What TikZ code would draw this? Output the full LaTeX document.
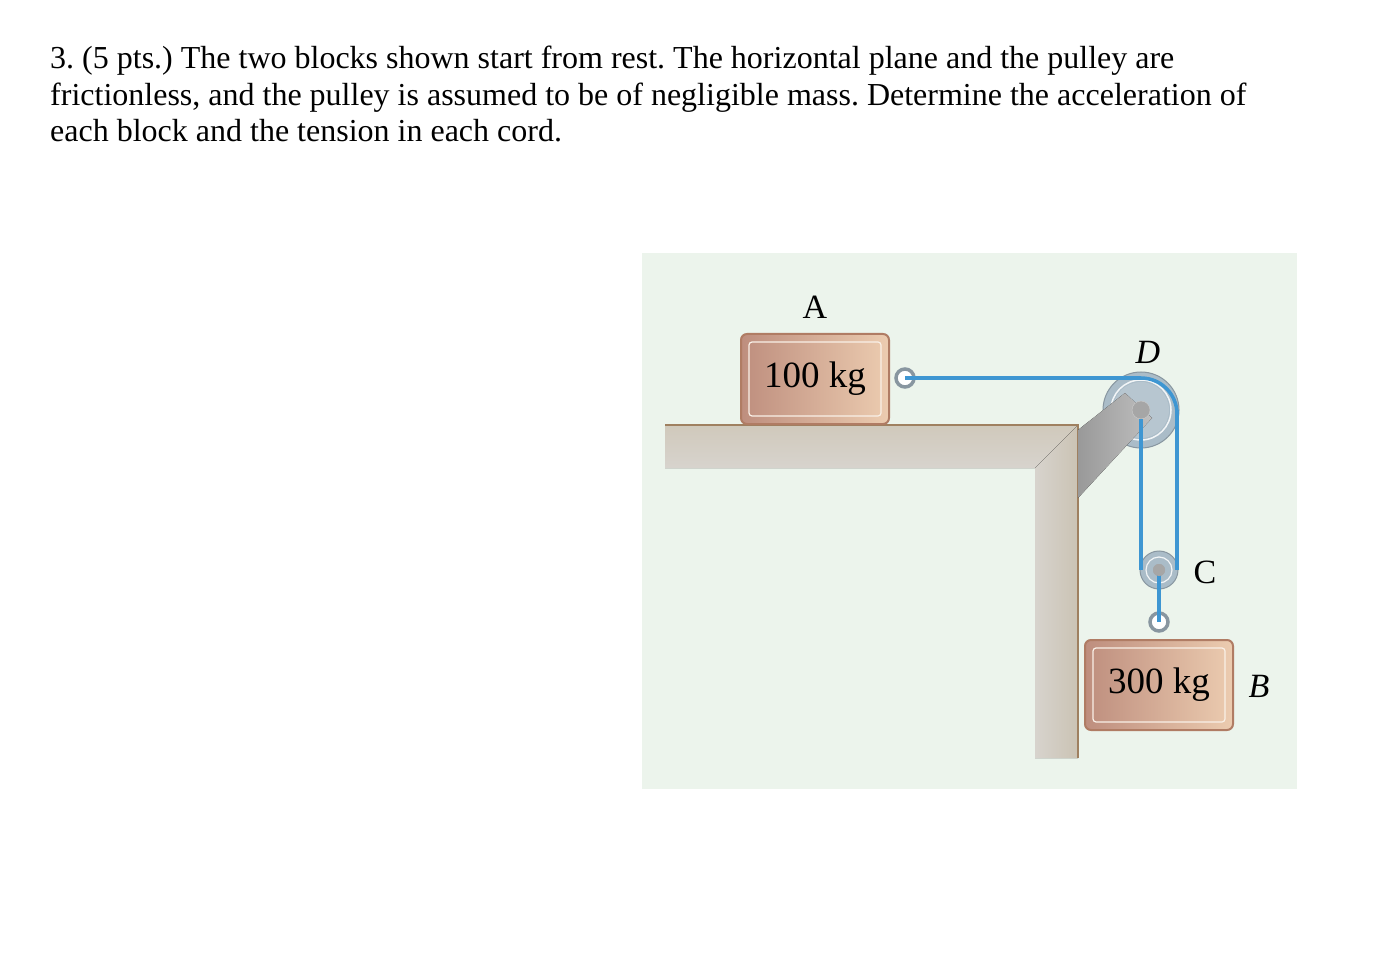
\documentclass[tikz,border=0pt]{standalone}
\usepackage{fontspec}
\setmainfont{Liberation Serif}
\frenchspacing
\definecolor{blkL}{RGB}{190,142,126}
\definecolor{blkR}{RGB}{236,204,176}
\definecolor{blkE}{RGB}{176,124,100}
\definecolor{cordc}{RGB}{62,150,210}
\definecolor{pul}{RGB}{170,188,200}
\begin{document}
\begin{tikzpicture}[x=1pt,y=-1pt,
  txt/.style={anchor=base west,inner sep=0,font=\fontsize{32}{36}\selectfont},
  lbl/.style={inner sep=0,font=\fontsize{34}{38}\selectfont},
  block/.style={draw=blkE,line width=2pt,rounded corners=6pt,
     left color=blkL,right color=blkR,inner sep=0},
  cord/.style={draw=cordc,line width=3.5pt},
  eyering/.style={circle,draw=pul!80!black,line width=3.5pt,fill=white,minimum size=18pt,inner sep=0}]
\useasboundingbox (0,0) rectangle (1382,968);
\fill[white] (0,0) rectangle (1382,968);
\node[txt] (l1) at (50,69) {3. (5 pts.) The two blocks shown start from rest. The horizontal plane and the pulley are};
\node[txt] (l2) at (50,106) {frictionless, and the pulley is assumed to be of negligible mass. Determine the acceleration of};
\node[txt] (l3) at (50,142) {each block and the tension in each cord.};
% panel
\fill[green!25!gray!12!white] (642,253) rectangle (1297,789);
% table
\fill[top color=yellow!20!brown!30!gray!45!white,bottom color=yellow!10!brown!20!gray!35!white] (665,425) -- (1078,425) -- (1035,468) -- (665,468) -- cycle;
\fill[left color=yellow!10!brown!20!gray!35!white,right color=yellow!20!brown!30!gray!50!white] (1078,425) -- (1078,758) -- (1035,758) -- (1035,468) -- cycle;
\draw[brown!50!gray,line width=1.5pt] (665,425) -- (1078,425) -- (1078,758);
% pulley D
\node[circle,fill=pul,draw=pul!80!black,line width=1pt,minimum size=76pt,inner sep=0] (D) at (1141,410) {};
\draw[white!85!pul,line width=1.5pt] (D.center) circle (30);
\fill[pul!85] (D.center) circle (28);
% bracket
\fill[left color=gray!80,right color=gray!50] (1078,430) -- (1125,393) -- (1152,418) -- (1078,498) -- cycle;
\node[circle,fill=gray!70,draw=gray!40,minimum size=18pt,inner sep=0] (Dax) at (1141,410) {};
% pulley C
\node[circle,fill=pul,draw=pul!80!black,line width=1pt,minimum size=38pt,inner sep=0] (C) at (1159,570) {};
\draw[white!85!pul,line width=1.2pt] (C.center) circle (13);
\node[circle,fill=gray!70,minimum size=12pt,inner sep=0] (Cax) at (1159,570) {};
% blocks
\node[block,minimum width=148pt,minimum height=90pt] (A) at (815,379) {};
\draw[white!70!blkR,line width=1.2pt,rounded corners=3pt] ([shift={(9,-9)}]A.south west) rectangle ([shift={(-9,9)}]A.north east);
\node[inner sep=0,font=\fontsize{37}{40}\selectfont] (At) at (A.center) {100 kg};
\node[block,minimum width=148pt,minimum height=90pt] (B) at (1159,685) {};
\draw[white!70!blkR,line width=1.2pt,rounded corners=3pt] ([shift={(9,-9)}]B.south west) rectangle ([shift={(-9,9)}]B.north east);
\node[inner sep=0,font=\fontsize{37}{40}\selectfont] (Bt) at (B.center) {300 kg};
% eyes
\node[eyering] (eA) at (905,378) {};
\node[eyering] (eB) at (1159,622) {};
\coordinate (Dtop) at (1141,378);
\coordinate (Dr) at (1177,410);
\coordinate (Cr) at (1177,570);
\coordinate (Cl) at (1141,570);
% cords
\draw[cord] (eA.center) -- (Dtop) arc[start angle=-90,end angle=0,radius=36];
\draw[cord] (Dr) -- (Cr);
\draw[cord] (Dax.south) -- (Cl);
\draw[cord] (Cax.center) -- (eB.center);
\fill[gray!70] (Cax) circle (6);
% labels
\node[lbl] (lA) at (815,307) {A};
\node[lbl] (lD) at (1148,352) {\itshape D};
\node[lbl] (lC) at (1205,572) {C};
\node[lbl] (lB) at (1259,686) {\itshape B};
\end{tikzpicture}
\end{document}
